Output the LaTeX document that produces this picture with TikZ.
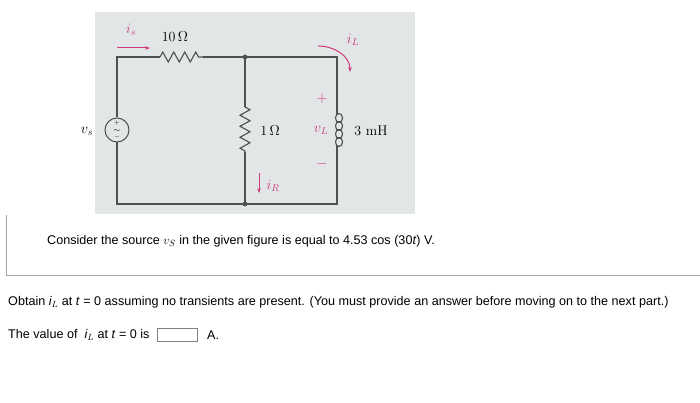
\documentclass[tikz,border=0pt]{standalone}
\usepackage{fontspec}
\setsansfont{Liberation Sans}
\usetikzlibrary{decorations.pathmorphing,arrows.meta}
\definecolor{mag}{RGB}{205,60,125}
\definecolor{bgc}{RGB}{226,230,230}
\definecolor{wire}{RGB}{80,80,80}
\begin{document}
\begin{tikzpicture}[x=1pt,y=-1pt,
  w/.style={draw=wire,line width=1.1pt},
  zz/.style={w,decoration={zigzag,segment length=11pt,amplitude=5pt},decorate},
  lab/.style={font=\fontsize{14}{15}\selectfont\rmfamily},
  cur/.style={draw=mag,line width=1pt,-{Stealth[length=5pt]}},
  q/.style={font=\fontsize{12.6}{14}\selectfont\sffamily,anchor=west,inner sep=0}]
\useasboundingbox (0,0) rectangle (700,403);
\fill[white] (0,0) rectangle (700,403);
\fill[bgc] (95,12) rectangle (415,214);
\draw[gray!70,line width=1pt] (6,215) -- (6,275) -- (700,275);
\coordinate (tl) at (117,57); \coordinate (tm) at (245,57); \coordinate (tr) at (337,57);
\coordinate (bl) at (117,204); \coordinate (bm) at (245,204); \coordinate (br) at (337,204);
\node[circle,draw=wire,line width=1pt,minimum size=24pt,inner sep=0] (src) at (117,130) {};
\node[font=\fontsize{6}{6}\selectfont,inner sep=0] at (117,123.5) {+};
\node[font=\fontsize{8}{8}\selectfont,inner sep=0] at (117,130.5) {$\sim$};
\node[font=\fontsize{6}{6}\selectfont,inner sep=0] at (117,137.5) {$-$};
\coordinate (r1a) at (160,57); \coordinate (r1b) at (203,57);
\coordinate (r2a) at (245,107); \coordinate (r2b) at (245,152);
\coordinate (la) at (337,114); \coordinate (lb) at (337,146);
\draw[w] (src.north) -- (tl) -- (r1a);
\draw[zz] (r1a) -- (r1b);
\draw[w] (r1b) -- (tm) -- (tr) -- (la);
\draw[w] (tm) -- (r2a);
\draw[zz] (r2a) -- (r2b);
\draw[w] (r2b) -- (bm);
\draw[w] (src.south) -- (bl) -- (br) -- (lb);
\foreach \k in {0,...,3} {\draw[wire,line width=1.1pt] (339,{118+8*\k}) ellipse [x radius=3.5pt,y radius=4.5pt];}
\fill[wire] (tm) circle (2.4pt); \fill[wire] (bm) circle (2.4pt);
\node[lab] at (175,37) {10\,$\Omega$};
\node[lab] at (270,131) {1\,$\Omega$};
\node[lab] at (371,131) {3 mH};
\node[lab] at (87,131) {$v_s$};
\node[lab,text=mag] at (131,30) {$i_s$};
\node[lab,text=mag] at (353,40) {$i_L$};
\node[lab,text=mag] at (321,130) {$v_L$};
\node[lab,text=mag] at (322,99) {$+$};
\node[lab,text=mag] at (322,164) {$-$};
\node[lab,text=mag] at (273,186) {$i_R$};
\coordinate (isa) at (117,48); \coordinate (isb) at (150,48);
\draw[cur] (isa) -- (isb);
\coordinate (ira) at (259,173); \coordinate (irb) at (259,193);
\draw[cur] (ira) -- (irb);
\coordinate (ila) at (318,46); \coordinate (ilb) at (350,72);
\draw[cur] (ila) to[out=0,in=90] (ilb);
\node[q] (t1) at (47,241) {Consider the source $v_S$ in the given figure is equal to 4.53 cos (30\textit{t}) V.};
\node[q] (t2) at (8,302) {Obtain \textit{i$_L$} at \textit{t} = 0 assuming no transients are present. (You must provide an answer before moving on to the next part.)};
\node[q] (t3) at (8,335) {The value of \ \textit{i$_L$} at \textit{t} = 0 is};
\node[draw=gray,line width=0.8pt,minimum width=40pt,minimum height=13pt,inner sep=0,anchor=west] (box) at (157,335) {};
\node[q] (t4) at (207,335) {A.};
\end{tikzpicture}
\end{document}
